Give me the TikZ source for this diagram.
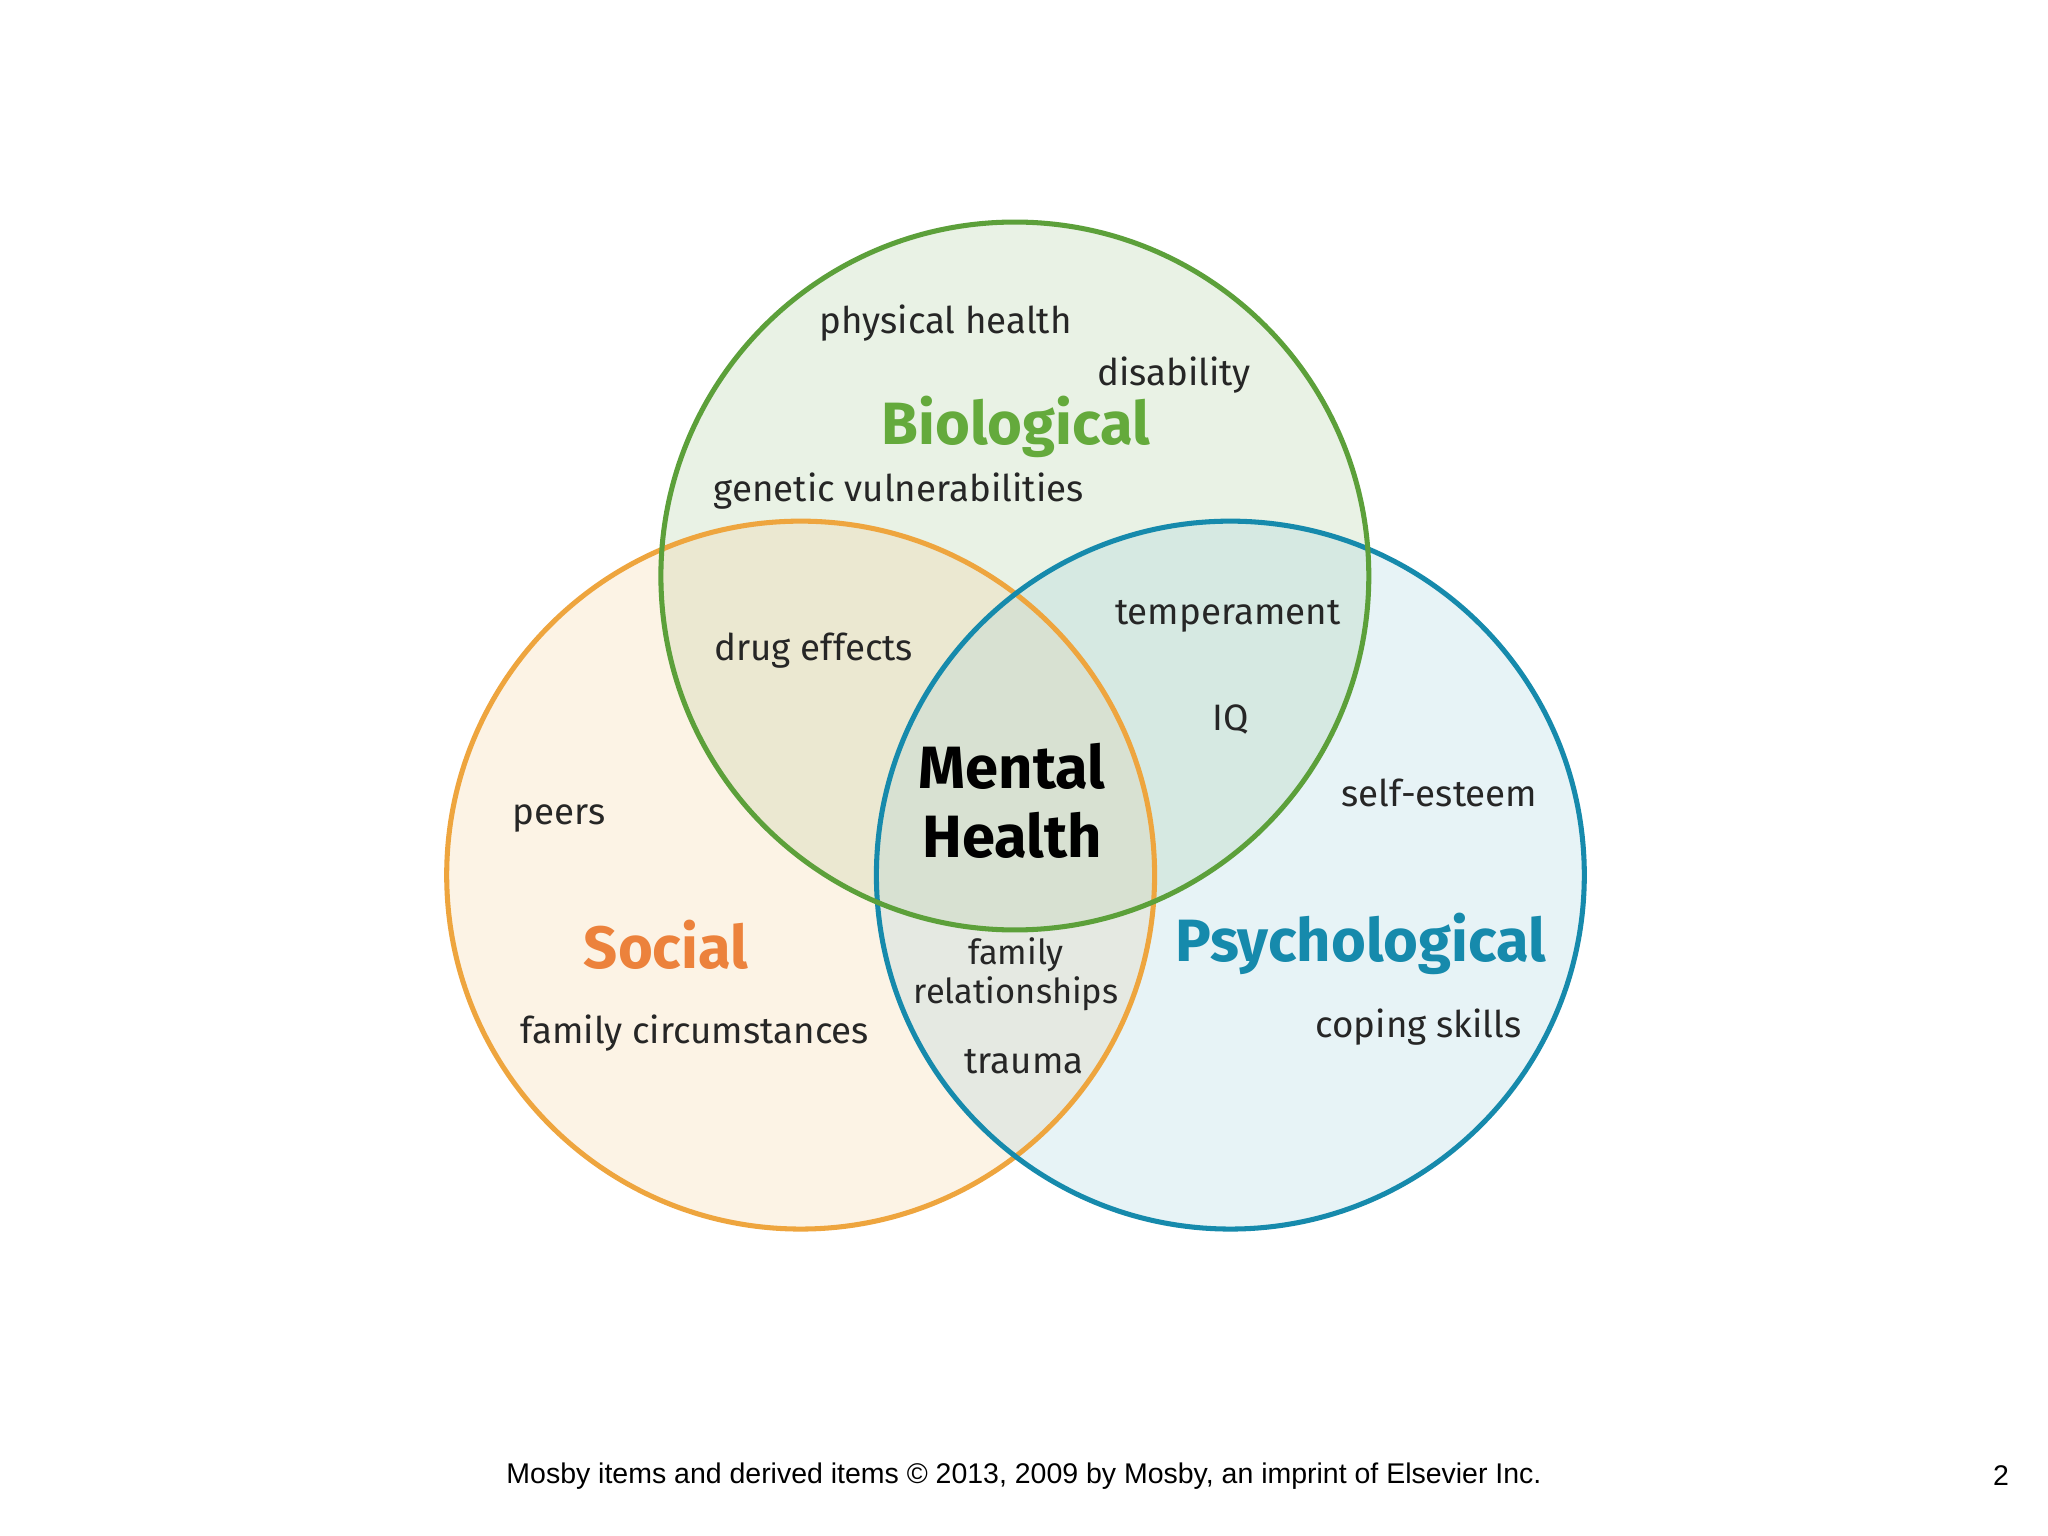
\documentclass[tikz,border=0pt]{standalone}
\usepackage{fontspec}
\setmainfont{Fira Sans}
\newfontfamily\footfont{Liberation Sans}
\definecolor{bio}{RGB}{92,160,58}
\definecolor{soc}{RGB}{238,165,62}
\definecolor{psy}{RGB}{22,138,172}
\definecolor{bioT}{RGB}{100,170,60}
\definecolor{socT}{RGB}{236,130,60}
\begin{document}
\begin{tikzpicture}[x=0.01cm,y=-0.01cm,
  ring/.style={line width=1.1pt},
  lbl/.style={font=\fontsize{8}{8.5}\selectfont,text=black!85,align=center},
  ttl/.style={font=\fontsize{13}{14}\selectfont\bfseries}]
\useasboundingbox (0,0) rectangle (1568,1176);
\fill[white] (0,0) rectangle (1568,1176);
\fill[bio!60!white,fill opacity=0.22] (777,441) circle (271);
\fill[soc!60!white,fill opacity=0.22] (613,670) circle (271);
\fill[psy!45!white,fill opacity=0.22] (942,670) circle (271);
\draw[ring,soc] (613,670) circle (271);
\draw[ring,psy] (942,670) circle (271);
\draw[ring,bio] (777,441) circle (271);
\node[lbl] (ph) at (724,247) {physical health};
\node[lbl] (dis) at (899,287) {disability};
\node[ttl,text=bioT] (bt) at (778,327) {Biological};
\node[lbl] (gv) at (688,376) {genetic vulnerabilities};
\node[lbl] (de) at (623,498) {drug effects};
\node[lbl] (tp) at (940,472) {temperament};
\node[lbl] (iq) at (942,551) {IQ};
\node[ttl,text=black,align=center,font=\fontsize{13}{15}\selectfont\bfseries] (mh) at (775,613) {Mental\\Health};
\node[lbl] (pe) at (428,627) {peers};
\node[lbl] (se) at (1102,607) {self-esteem};
\node[ttl,text=socT] (st) at (510,723) {Social};
\node[ttl,text=psy] (pt) at (1042,723) {Psychological};
\node[lbl,font=\fontsize{7.5}{8.5}\selectfont] (fr) at (778,746) {family\\relationships};
\node[lbl] (fc) at (532,791) {family circumstances};
\node[lbl] (cs) at (1086,786) {coping skills};
\node[lbl] (tr) at (784,813) {trauma};
\node[font=\footfont\fontsize{6.2}{7}\selectfont] (ft) at (784,1130) {Mosby items and derived items © 2013, 2009 by Mosby, an imprint of Elsevier Inc.};
\node[font=\footfont\fontsize{6.2}{7}\selectfont] (pg) at (1532,1130) {2};
\end{tikzpicture}
\end{document}
